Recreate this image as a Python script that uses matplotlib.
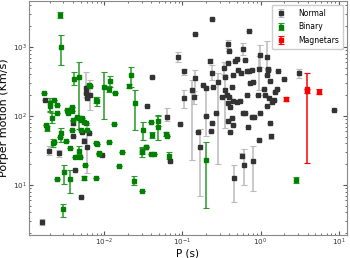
import matplotlib
matplotlib.use("Agg")
import matplotlib.pyplot as plt

# Normal pulsars: period (s), proper motion (km/s), lower / upper error
normal_p = [0.00161, 0.00173, 0.00197, 0.0026, 0.00394, 0.004, 0.0042, 0.005, 0.00519, 0.0055,
            0.0058, 0.0059, 0.006, 0.006, 0.0063, 0.0065, 0.0093, 0.0348, 0.0414, 0.0626,
            0.069, 0.088, 0.093, 0.105, 0.105, 0.131, 0.14, 0.144, 0.145, 0.159,
            0.168, 0.181, 0.2, 0.2, 0.226, 0.23, 0.237, 0.239, 0.241, 0.249,
            0.27, 0.288, 0.318, 0.337, 0.35, 0.35, 0.369, 0.38, 0.38, 0.387,
            0.387, 0.39, 0.399, 0.407, 0.407, 0.427, 0.43, 0.448, 0.448, 0.448,
            0.457, 0.47, 0.495, 0.495, 0.52, 0.546, 0.56, 0.574, 0.59, 0.602,
            0.614, 0.633, 0.633, 0.665, 0.665, 0.7, 0.706, 0.72, 0.733, 0.77,
            0.77, 0.79, 0.809, 0.83, 0.92, 0.948, 0.965, 0.985, 0.985, 1.2,
            1.22, 1.26, 1.26, 1.32, 1.32, 1.36, 1.1, 1.15, 1.3, 1.4,
            1.5, 1.55, 1.61, 1.2, 1.69, 2.0, 3.14, 8.75]
normal_v = [2.94, 171, 31.4, 28.7, 78.4, 52, 16.6, 6.6, 59, 44,
            257, 213, 181, 35, 56, 201, 27.5, 138, 364, 98,
            22.5, 723, 77, 449, 181, 238, 190, 350, 1540, 58,
            35, 281, 252, 100, 627, 61, 80, 2520, 420, 266,
            111, 315, 190, 502, 372, 238, 201, 1096, 85, 580,
            153, 880, 190, 136, 59, 266, 93, 393, 167, 74,
            12.5, 627, 663, 161, 464, 167, 420, 26.7, 109, 927,
            19.7, 650, 111, 454, 201, 70, 1710, 454, 296, 98,
            464, 22.5, 315, 96, 201, 488, 44.9, 765, 109, 720,
            393, 475, 464, 325, 78, 50.7, 250, 200, 180, 160,
            171, 220, 250, 140, 454, 340, 416, 122]
normal_lo = [0.3, 0, 4, 3, 5, 0, 0, 0, 0, 4,
             67, 0, 0, 20, 0, 79, 0, 0, 0, 14,
             0, 110, 0, 50, 50, 215, 40, 150, 0, 0,
             28, 0, 200, 0, 40, 0, 0, 0, 90, 0,
             0, 295, 0, 100, 0, 170, 0, 120, 0, 0,
             0, 0, 0, 0, 0, 0, 0, 0, 0, 0,
             6.9, 0, 0, 0, 0, 0, 0, 2, 0, 150,
             9.8, 0, 0, 0, 0, 0, 0, 0, 0, 0,
             0, 14.2, 0, 0, 0, 250, 0, 250, 0, 220,
             0, 0, 0, 0, 0, 4, 0, 0, 0, 0,
             0, 0, 0, 0, 0, 0, 57, 0]
normal_hi = [0.3, 0, 5, 3, 5, 0, 0, 0, 0, 4,
             180, 0, 0, 40, 0, 129, 0, 0, 0, 32,
             0, 130, 0, 30, 57, 100, 40, 120, 0, 0,
             29, 0, 0, 0, 40, 0, 0, 0, 120, 0,
             0, 100, 0, 100, 0, 150, 0, 150, 0, 0,
             0, 0, 0, 0, 0, 0, 0, 0, 0, 0,
             7, 0, 0, 0, 0, 0, 0, 2, 0, 200,
             13.3, 0, 0, 0, 0, 0, 0, 0, 0, 0,
             0, 14, 0, 0, 0, 250, 0, 300, 0, 500,
             0, 0, 0, 0, 0, 4, 0, 0, 0, 0,
             0, 0, 0, 0, 0, 0, 62, 0]

# Binary pulsars
binary_p = [0.00275, 0.0028, 0.00168, 0.00179, 0.00183, 0.0020, 0.00204, 0.00212, 0.00219, 0.00225,
            0.0023, 0.00248, 0.00248, 0.00248, 0.00274, 0.00279, 0.00296, 0.00305, 0.00324, 0.00334,
            0.0034, 0.00361, 0.00369, 0.00387, 0.00387, 0.00387, 0.00403, 0.00406, 0.00428, 0.00444,
            0.0047, 0.00471, 0.00471, 0.00485, 0.005, 0.00504, 0.0052, 0.00546, 0.0055, 0.0056,
            0.0058, 0.00602, 0.00646, 0.00652, 0.00785, 0.00794, 0.00794, 0.0081, 0.0081, 0.00844,
            0.0085, 0.00986, 0.0114, 0.0114, 0.0118, 0.0132, 0.0139, 0.0154, 0.0169, 0.0206,
            0.0217, 0.0239, 0.0246, 0.030, 0.030, 0.0305, 0.0316, 0.0337, 0.034, 0.0395,
            0.0395, 0.041, 0.0427, 0.0481, 0.049, 0.0614, 0.0627, 0.0677, 0.2, 2.85]
binary_v = [2940, 1010, 218, 74, 66, 140, 154, 94, 40, 171,
            42, 144, 109, 12.1, 50, 56, 4.5, 15.3, 43.5, 122,
            109, 12.2, 34, 136, 119, 62.7, 87.5, 344, 25.2, 98,
            94, 364, 31.4, 25.2, 88, 62.7, 94, 12.5, 82, 19.7,
            80, 62.7, 282, 272, 40, 171, 12.5, 165, 39.3, 28.8,
            28.1, 266, 245, 42.4, 325, 76.6, 218, 19.1, 30.4, 272,
            393, 11.5, 153, 8.3, 31, 30.4, 62.8, 35.3, 36, 80.5,
            28, 53, 28.1, 70, 85.5, 55, 51.8, 26.7, 23, 11.8]
binary_lo = [330, 470, 0, 0, 6, 20, 39, 14, 4, 0,
             0, 0, 0, 0, 0, 14, 1.1, 5, 0, 0,
             0, 4.5, 0, 0, 0, 0, 0, 60, 0, 0,
             0, 300, 3, 0, 0, 0, 0, 0.8, 0, 0,
             0, 0, 0, 0, 0, 15, 0, 25, 0, 0,
             0, 176, 25, 0, 59, 0, 0, 0, 0, 20,
             127, 1.5, 90, 0, 3, 5, 18, 0, 0, 0,
             0, 5, 0, 25, 15, 3, 0, 3, 18.4, 1.2]
binary_hi = [300, 500, 0, 0, 6, 25, 27, 18, 7, 0,
             0, 0, 0, 0, 0, 10, 0.8, 4.4, 0, 0,
             0, 4.5, 0, 0, 0, 0, 0, 86, 0, 0,
             0, 250, 5, 0, 0, 0, 0, 0.8, 0, 0,
             0, 0, 0, 0, 0, 15, 0, 25, 0, 0,
             0, 173, 25, 0, 55, 0, 0, 0, 0, 20,
             126, 1.8, 85, 0, 3, 5, 18, 0, 0, 0,
             0, 5, 0, 35, 15, 3, 0, 3, 18.6, 1.2]

# Magnetars
mag_p = [2.12, 3.91, 3.91, 5.67]
mag_v = [175, 244, 228, 225]
mag_lo = [12, 223, 15, 20]
mag_hi = [12, 181, 15, 20]

fig, ax = plt.subplots(figsize=(3.5, 2.58), dpi=100)

ax.errorbar(normal_p, normal_v, yerr=[normal_lo, normal_hi], fmt='s', ms=2.3,
            color='#333333', ecolor='#bbbbbb', elinewidth=1.1, capsize=2, capthick=0.8,
            label='Normal')
ax.errorbar(binary_p, binary_v, yerr=[binary_lo, binary_hi], fmt='s', ms=2.3,
            color='green', ecolor='#2a9a2a', elinewidth=1.1, capsize=2, capthick=0.8,
            label='Binary')
ax.errorbar(mag_p, mag_v, yerr=[mag_lo, mag_hi], fmt='s', ms=2.3,
            color='red', ecolor='red', elinewidth=1.1, capsize=2, capthick=0.8,
            label='Magnetars')

ax.set_xscale('log')
ax.set_yscale('log')
ax.set_xlim(1.09e-3, 12.7)
ax.set_ylim(1.88, 4640)
ax.set_xlabel('P (s)', fontsize=7.5)
ax.set_ylabel('Porper motion (Km/s)', fontsize=8)
ax.yaxis.set_label_coords(-0.062, 0.5)
ax.xaxis.set_label_coords(0.5, -0.058)
ax.tick_params(which='both', direction='in', top=True, right=True,
               labelsize=5.2, colors='#555555', labelcolor='#333333')
ax.tick_params(which='major', length=3, pad=1.5)
ax.tick_params(which='minor', length=1.5)
for s in ax.spines.values():
    s.set_color('#888888')

ax.legend(loc='upper right', fontsize=5.5, handlelength=1.5, borderpad=0.5,
          labelspacing=0.6, handletextpad=1.5, framealpha=1, edgecolor='#cccccc')

fig.subplots_adjust(left=0.083, right=0.991, bottom=0.089, top=0.996)
fig.savefig('out.png', dpi=100)
